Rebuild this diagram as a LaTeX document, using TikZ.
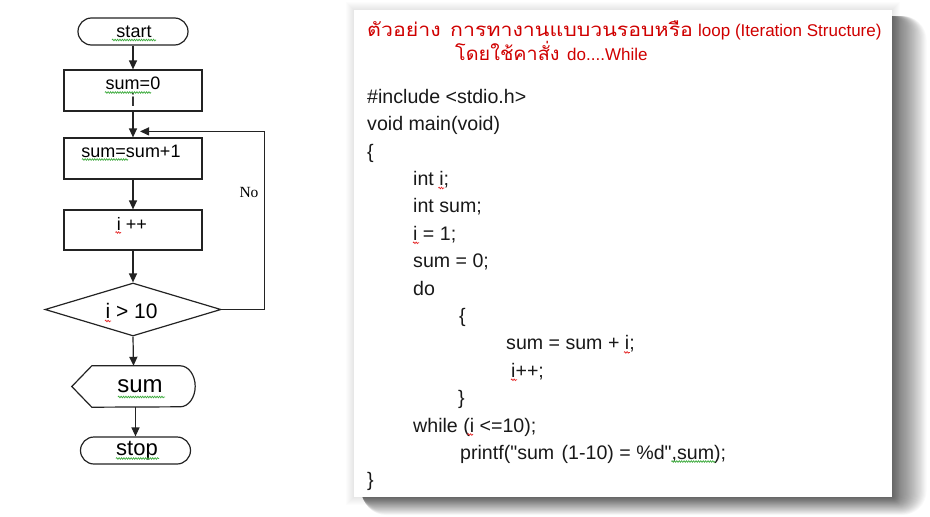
\documentclass[tikz,border=0pt]{standalone}
\usepackage{graphicx}
\usepackage{fontspec}
\setmainfont{Liberation Sans}
\newfontfamily\thaifont[Script=Thai,Scale=1.1]{Loma}
\newfontfamily\seriffont{Liberation Serif}
\usetikzlibrary{arrows.meta,shapes.geometric,decorations.pathmorphing,calc}
\definecolor{titlered}{RGB}{208,0,0}
\definecolor{gwave}{RGB}{60,170,60}
\definecolor{rwave}{RGB}{230,40,40}
\definecolor{ink}{RGB}{35,35,35}
\newcommand\dq{\XeTeXglyph\XeTeXcharglyph"22\relax}
\newcommand\thw[2][1.14]{\scalebox{#1}[1]{\thaifont #2}}
\begin{document}
\begin{tikzpicture}[x=1pt,y=-1pt,
  line/.style={draw=ink, line width=1.2pt},
  arr/.style={line, -{Triangle[length=9pt,width=8pt]}},
  box/.style={draw=ink, line width=1.2pt, minimum width=138pt, minimum height=41pt, inner sep=0pt},
  term/.style={draw=ink, line width=1.2pt, rounded corners=13.5pt, minimum width=110pt, minimum height=27pt, inner sep=0pt},
  ftxt/.style={anchor=base, inner sep=0pt, text=black, font=\fontsize{18}{18}\selectfont},
  code/.style={anchor=base west, inner sep=0pt, text=black!90, font=\fontsize{19.6}{20}\selectfont},
  ttl/.style={anchor=base west, inner sep=0pt, text=titlered, font=\fontsize{17}{18}\selectfont},
  gw/.style={draw=gwave, line width=0.7pt, decorate, decoration={snake, amplitude=0.8pt, segment length=2.4pt}},
  rw/.style={draw=rwave, line width=0.7pt, decorate, decoration={snake, amplitude=0.8pt, segment length=2.4pt}}
]
\useasboundingbox (0,0) rectangle (930,517);
\fill[white] (0,0) rectangle (930,517);

% ---- shadow of the code panel ----
\foreach \i in {1,...,8}{
  \fill[black, opacity=0.012] ({354-\i},{10-\i}) rectangle ({892+\i},{497+\i});
}
\foreach \i in {1,...,30}{
  \pgfmathsetmacro\rr{0.8*\i}
  \fill[black, opacity=0.022, rounded corners=\rr pt]
    (362,16) rectangle ({892+1.15*\i},{497+0.6*\i});
}
\fill[white] (354,10) rectangle (892,497);

% ---- flowchart ----
\node[term] (st) at (133,31.5) {};
\node[ftxt] (stt) at (134,37.5) {start};
\node[box] (s0) at (133,90.5) {};
\node[ftxt] (s0a) at (133,89.5) {sum=0};
\node[ftxt] (s0b) at (133,106) {i};
\node[box] (s1) at (133,158.5) {};
\node[ftxt] (s1t) at (131,157) {sum=sum+1};
\node[box, minimum height=40pt] (ipp) at (133,230) {};
\node[ftxt] (ippt) at (132,230) {i ++};
\node[diamond, draw=ink, line width=1.2pt, minimum width=176pt, minimum height=53pt, inner sep=0pt] (dia) at (133,309.5) {};
\node[ftxt, font=\fontsize{21}{21}\selectfont] (diat) at (131.5,318) {i > 10};
\node[inner sep=0pt, minimum width=123pt, minimum height=41pt] (disp) at (133.5,386.5) {};
\draw[line] (disp.west) -- ($(disp.north west)+(20,0)$) -- ($(disp.north east)+(-15,0)$)
   arc[start angle=90, end angle=-90, x radius=15pt, y radius=20.5pt]
   -- ($(disp.south west)+(20,0)$) -- cycle;
\node[ftxt, font=\fontsize{24}{24}\selectfont] (dispt) at (140,392.5) {sum};
\node[term] (sp) at (135.5,450.5) {};
\node[ftxt, font=\fontsize{22}{22}\selectfont] (spt) at (137,455) {stop};

\draw[arr] (st.south) -- (s0.north);
\draw[arr] (s0.south) -- (s1.north);
\draw[arr] (s1.south) -- (ipp.north);
\draw[arr] (ipp.south) -- (dia.north);
\draw[arr] (dia.south) -- (disp.north);
\draw[arr] (disp.south -| sp.north) -- (sp.north);
\coordinate (jn) at ($(s1.north)+(7,-6)$);
\draw[arr] (dia.east) -- ++(43,0) |- (jn);
\node[inner sep=0pt, font=\seriffont\fontsize{15.5}{16}\selectfont] (no) at (249,192) {No};

% spell-check squiggles in the flowchart
\draw[gw] (112,40) -- (156,40);
\draw[gw] (105,92.5) -- (151,92.5);
\draw[gw] (82,159.5) -- (128,159.5);
\draw[rw] (115.5,232.5) -- (121,232.5);
\draw[rw] (105,321) -- (111,321);
\draw[gw] (118,397) -- (165,397);
\draw[gw] (116,458.5) -- (159,458.5);

% ---- title ----
\node[ttl] (t1a) at (367,36) {\thw{ตัวอย่าง}};
\node[ttl] (t1b) at (450,36) {\thw{การทางานแบบวนรอบหรือ}};
\node[ttl] (t1c) at (698,36) {loop (Iteration Structure)};
\node[ttl] (t2a) at (455,60) {\thw[1.06]{โดยใช้คาสั่ง}};
\node[ttl] (t2b) at (567,60) {do....While};

% ---- code ----
\node[code] (c0) at (367,103.3) {\#include <stdio.h>};
\node[code] (c1) at (367,130.7) {void main(void)};
\node[code] (c2) at (367,158.1) {\{};
\node[code] (c3) at (413,185.5) {int i;};
\node[code] (c4) at (413,212.9) {int sum;};
\node[code] (c5) at (413,240.3) {i = 1;};
\node[code] (c6) at (413,267.7) {sum = 0;};
\node[code] (c7) at (413,295.1) {do};
\node[code] (c8) at (459,322.5) {\{};
\node[code] (c9) at (506,349.9) {sum = sum + i;};
\node[code] (c10) at (511,377.3) {i++;};
\node[code] (c11) at (458,404.7) {\}};
\node[code] (c12) at (413,432.1) {while (i <=10);};
\node[code] (c13) at (460,459.5) {printf(\dq sum\hspace{2pt} (1-10) = \%d\dq,sum);};
\node[code] (c14) at (367,486.9) {\}};

% spell-check squiggles in the code
\draw[rw] ($(c3.base east)+(-11,2.5)$) -- ($(c3.base east)+(-5,2.5)$);
\draw[rw] ($(c5.base west)+(0,2.5)$) -- ($(c5.base west)+(6,2.5)$);
\draw[rw] ($(c9.base east)+(-11,2.5)$) -- ($(c9.base east)+(-5,2.5)$);
\draw[rw] ($(c10.base west)+(0,2.5)$) -- ($(c10.base west)+(6,2.5)$);
\draw[rw] (467.5,434.5) -- (473,434.5);
\draw[gw] ($(c13.base east)+(-55,2)$) -- ($(c13.base east)+(-11,2)$);
\end{tikzpicture}
\end{document}
